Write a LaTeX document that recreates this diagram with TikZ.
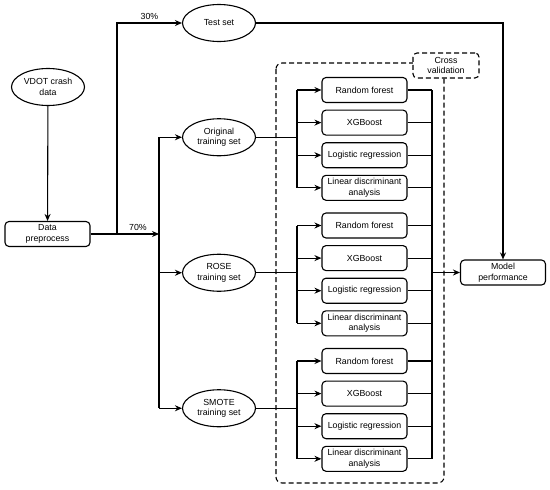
\documentclass[tikz,border=0pt]{standalone}
\usepackage{fontspec}
\setmainfont{Liberation Sans}
\usetikzlibrary{shapes,arrows.meta,positioning,calc}

\begin{document}
\begin{tikzpicture}[
    x=1pt, y=-1pt,
    every node/.style={font=\fontsize{8.8}{10.5}\selectfont, align=center},
    setnode/.style={ellipse, draw, line width=1.1pt, minimum width=73pt, minimum height=37pt, inner sep=0pt},
    modelbox/.style={rectangle, rounded corners=4pt, draw, line width=1.1pt, minimum width=85pt, minimum height=25pt, inner sep=1pt},
    cvbox/.style={rectangle, rounded corners=4pt, draw, fill=white, line width=1.1pt, dash pattern=on 5pt off 3pt, minimum width=66pt, minimum height=25pt, inner sep=1pt},
    line/.style={line width=1.1pt},
    arr/.style={line width=1.1pt, -{Stealth[length=7pt,width=6pt]}}
]
    \useasboundingbox (0,0) rectangle (550,490);

    % inputs and split sets
    \node[setnode] (vdot) at (48,87) {VDOT crash\\data};
    \node[modelbox] (prep) at (47.5,234) {Data\\preprocess};
    \node[setnode] (test) at (219,23) {Test set};
    \node[setnode] (orig) at (219,137.25) {Original\\training set};
    \node[setnode] (rose) at (219,272.75) {ROSE\\training set};
    \node[setnode] (smote) at (219,408.25) {SMOTE\\training set};
    \node[modelbox] (perf) at (503,272.5) {Model\\performance};

    \coordinate (fork) at (117,0);
    \coordinate (trainx) at (159,0);
    \coordinate (splitx) at (297,0);
    \coordinate (collx) at (432,0);

    % cross validation frame
    \draw[line, dash pattern=on 5pt off 3pt, rounded corners=6pt] (276,63) rectangle (444,483);
    \node[cvbox] (cv) at (446,65.5) {Cross\\validation};

    % models
    \foreach \grp/\yrf in {orig/90,rose/225.5,smote/361} {
        \node[modelbox] (\grp-rf) at (364.5,\yrf) {Random forest};
        \node[modelbox, below=6.5pt of \grp-rf] (\grp-xgb) {XGBoost};
        \node[modelbox, below=6.5pt of \grp-xgb] (\grp-lr) {Logistic regression};
        \node[modelbox, below=6.5pt of \grp-lr] (\grp-lda) {Linear discriminant\\analysis};
        \draw[line] (\grp.east) -- (\grp.east -| splitx);
        \draw[line] (\grp-rf.west -| splitx) -- (\grp-lda.west -| splitx);
        \foreach \m in {rf,xgb,lr,lda} {
            \draw[arr] (\grp-\m.west -| splitx) -- (\grp-\m.west);
            \draw[line] (\grp-\m.east) -- (\grp-\m.east -| collx);
        }
    }

    % connectors
    \draw[arr] (vdot) -- (prep);
    \draw[line] (prep.east) -- (prep.east -| fork);
    \draw[arr] (prep.east -| fork) |- (test.west) node[pos=0.75, above] {30\%};
    \draw[arr] (prep.east -| fork) -- (prep.east -| trainx) node[midway, above] {70\%};
    \draw[line] (orig.west -| trainx) -- (smote.west -| trainx);
    \draw[arr] (orig.west -| trainx) -- (orig.west);
    \draw[arr] (rose.west -| trainx) -- (rose.west);
    \draw[arr] (smote.west -| trainx) -- (smote.west);
    \draw[line] (orig-rf.east -| collx) -- (smote-lda.east -| collx);
    \draw[arr] (perf.west -| collx) -- (perf.west);
    \draw[arr] (test.east) -| (perf.north);
\end{tikzpicture}
\end{document}
